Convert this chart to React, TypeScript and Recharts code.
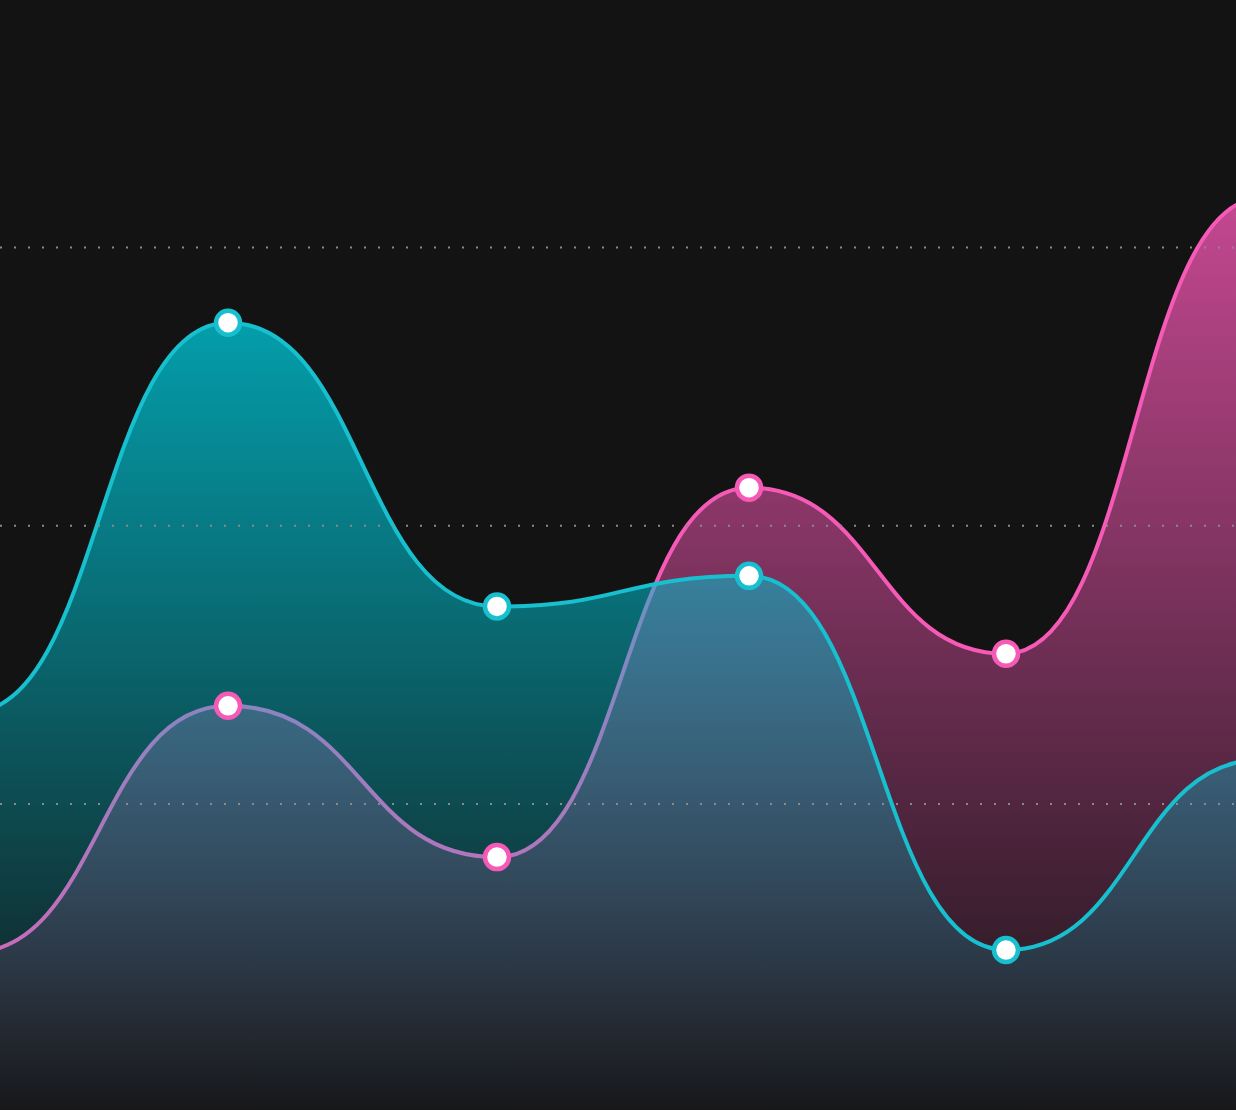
import React from "react";
import { AreaChart, Area, Line, XAxis, YAxis, ReferenceLine } from "recharts";

// x positions (days) – first and last two points lie outside the visible window
const days = [-27.8, -2.8, 22.14, 48.25, 72.72, 97.67, 122.6, 147.6];
const tealValues = [200, 133, 273, 171, 182, 47.5, 116, 60];
const pinkValues = [150, 46.6, 135.3, 80.9, 213.7, 154, 318, 250];
const gridTicks = [100, 200, 300];

const data = days.map((d, i) => ({ day: d, teal: tealValues[i], pink: pinkValues[i] }));

const TEAL = "#17bfcf";
const PINK = "#f55ab6";

export default function App() {
  return (
    <div
      style={{
        position: "fixed",
        left: 0,
        top: 0,
        width: 1236,
        height: 1110,
        background: "#131313",
        overflow: "hidden",
      }}
    >
      <AreaChart width={1236} height={1110} data={data} margin={{ top: 0, right: 0, bottom: 0, left: 0 }}>
        <defs>
          <linearGradient id="tealFill" x1="0" y1="0" x2="0" y2="1">
            <stop offset="0%" stopColor="#00bccc" stopOpacity={0.82} />
            <stop offset="100%" stopColor="#00bccc" stopOpacity={0.02} />
          </linearGradient>
          <linearGradient id="pinkFill" x1="0" y1="0" x2="0" y2="1">
            <stop offset="0%" stopColor="#f055b0" stopOpacity={0.8} />
            <stop offset="100%" stopColor="#f055b0" stopOpacity={0.02} />
          </linearGradient>
        </defs>
        <XAxis type="number" dataKey="day" domain={[0, 120]} allowDataOverflow hide />
        <YAxis type="number" domain={[-10, 389]} allowDataOverflow hide />
        <Area
          type="bumpX"
          dataKey="pink"
          stroke={PINK}
          strokeWidth={4}
          fill="url(#pinkFill)"
          fillOpacity={1}
          baseValue="dataMin"
          dot={false}
          activeDot={false}
          isAnimationActive={false}
        />
        <Area
          type="bumpX"
          dataKey="teal"
          stroke={TEAL}
          strokeWidth={4}
          fill="url(#tealFill)"
          fillOpacity={1}
          baseValue="dataMin"
          dot={false}
          activeDot={false}
          isAnimationActive={false}
        />
        {gridTicks.map((t) => (
          <ReferenceLine
            key={t}
            y={t}
            stroke="#8a8a8a"
            strokeWidth={2}
            strokeDasharray="2 12"
          />
        ))}
        <Line
          type="bumpX"
          dataKey="pink"
          stroke="none"
          dot={{ r: 12, fill: "#ffffff", stroke: PINK, strokeWidth: 4.5 }}
          activeDot={false}
          isAnimationActive={false}
        />
        <Line
          type="bumpX"
          dataKey="teal"
          stroke="none"
          dot={{ r: 12, fill: "#ffffff", stroke: TEAL, strokeWidth: 4.5 }}
          activeDot={false}
          isAnimationActive={false}
        />
      </AreaChart>
    </div>
  );
}
